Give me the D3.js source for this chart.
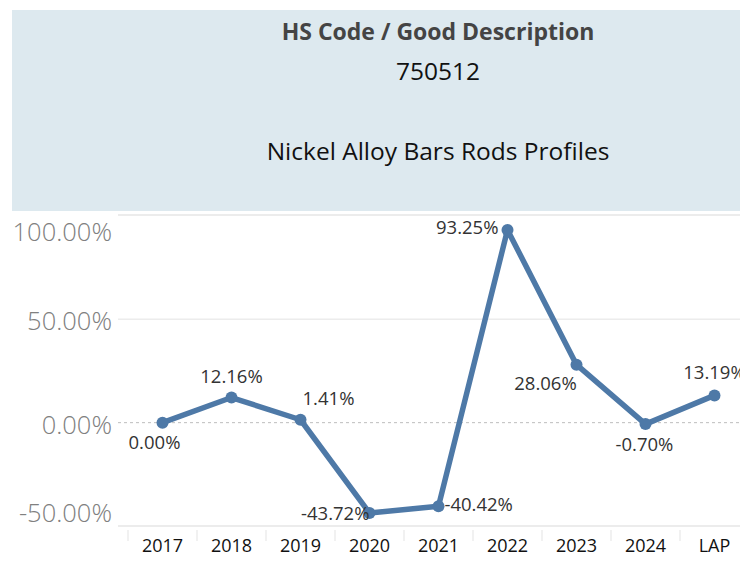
<!DOCTYPE html>
<html>
<head>
<meta charset="utf-8">
<script src="https://cdn.jsdelivr.net/npm/d3@7"></script>
<style>
  html, body { margin: 0; padding: 0; background: #fff; }
  svg { display: block; }
</style>
</head>
<body>
<svg id="chart" width="740" height="562"></svg>
<script>
// Year-over-year change for HS 750512
const categories = ["2017", "2018", "2019", "2020", "2021", "2022", "2023", "2024", "LAP"];
const changePct = [0.00, 12.16, 1.41, -43.72, -40.42, 93.25, 28.06, -0.70, 13.19];
const yTicks = [-50, 0, 50, 100];
const titleLines = ["HS Code / Good Description", "750512", "Nickel Alloy Bars Rods Profiles"];
// label placement per point: [dx, dy, anchor]
const labelPos = [
  [-8, 20, "middle"], [0, -21, "middle"], [28, -21, "middle"],
  [0, 1, "end"], [6, -2, "start"], [-9, -2, "end"],
  [-31, 19, "middle"], [-1, 20, "middle"], [0, -23, "middle"]
];

const svg = d3.select("#chart");
const W = 740, H = 562;
const narrow = "'Liberation Sans Narrow', 'Open Sans', sans-serif";

// Header panel
svg.append("rect").attr("x", 12).attr("y", 10).attr("width", W - 12).attr("height", 201)
  .attr("fill", "#dde9ef");
const hx = 438;
svg.append("text").attr("x", hx).attr("y", 40).attr("text-anchor", "middle")
  .attr("font-family", narrow)
  .attr("font-weight", "bold").attr("font-size", 23).attr("fill", "#444")
  .text(titleLines[0]);
svg.append("text").attr("x", hx).attr("y", 80).attr("text-anchor", "middle")
  .attr("font-family", narrow)
  .attr("font-size", 24.5).attr("fill", "#111")
  .text(titleLines[1]);
svg.append("text").attr("x", hx).attr("y", 160).attr("text-anchor", "middle")
  .attr("font-family", narrow)
  .attr("font-size", 24.5).attr("fill", "#111")
  .text(titleLines[2]);

// Plot area
const plotLeft = 118, plotTop = 216, plotBottom = 526;
const x = d3.scaleBand().domain(categories).range([128, 128 + 69 * categories.length]).paddingInner(0).paddingOuter(0);
const y = d3.scaleLinear().domain([-50, 100]).range([plotBottom, plotTop]);

const grid = svg.append("g");
// top and bottom frame lines
grid.append("line").attr("x1", plotLeft).attr("x2", W).attr("y1", plotTop - 1).attr("y2", plotTop - 1)
  .attr("stroke", "#ececec").attr("stroke-width", 2);
grid.selectAll("line.g").data(yTicks.filter(d => d !== 0 && d !== -50 && d !== 100)).join("line")
  .attr("class", "g").attr("x1", plotLeft).attr("x2", W)
  .attr("y1", d => y(d)).attr("y2", d => y(d))
  .attr("stroke", "#ececec").attr("stroke-width", 1.5);
grid.append("line").attr("x1", plotLeft).attr("x2", W).attr("y1", plotBottom).attr("y2", plotBottom)
  .attr("stroke", "#ececec").attr("stroke-width", 2);
// zero reference line
grid.append("line").attr("x1", plotLeft).attr("x2", W).attr("y1", y(0)).attr("y2", y(0))
  .attr("stroke", "#bdbdbd").attr("stroke-width", 1).attr("stroke-dasharray", "3,3");

// Y axis labels (edge labels nudged inward)
const yLabelFmt = d => d.toFixed(2) + "%";
svg.append("g").selectAll("text").data(yTicks).join("text")
  .attr("x", 112)
  .attr("y", d => d === 100 ? y(d) + 16 : d === -50 ? y(d) - 13 : y(d) + 2)
  .attr("dy", "0.35em")
  .attr("text-anchor", "end")
  .attr("font-family", "'Open Sans', sans-serif").attr("font-weight", 300)
  .attr("font-size", 25.5).attr("fill", "#808080")
  .text(yLabelFmt);

// X axis: band dividers and labels
const xAxis = d3.axisBottom(x).tickSize(0).tickPadding(0);
const xg = svg.append("g").attr("transform", `translate(0,${plotBottom})`).call(xAxis);
xg.select(".domain").remove();
xg.selectAll("text")
  .attr("y", 26).attr("dy", "0")
  .attr("font-family", narrow)
  .attr("font-size", 18).attr("fill", "#111");
xg.selectAll(".tick").append("line")
  .attr("x1", -x.bandwidth() / 2).attr("x2", -x.bandwidth() / 2)
  .attr("y1", 4).attr("y2", 15).attr("stroke", "#e3e3e3").attr("stroke-width", 1);

// Line and points
const cx = (d, i) => x(categories[i]) + x.bandwidth() / 2;
const line = d3.line().x((d, i) => cx(d, i)).y(d => y(d));
svg.append("path").datum(changePct).attr("d", line)
  .attr("fill", "none").attr("stroke", "#4e79a7").attr("stroke-width", 5.5)
  .attr("stroke-linejoin", "round").attr("stroke-linecap", "round");
svg.append("g").selectAll("circle").data(changePct).join("circle")
  .attr("cx", cx).attr("cy", d => y(d)).attr("r", 6).attr("fill", "#4e79a7");

// Value labels
svg.append("g").selectAll("text").data(changePct).join("text")
  .attr("x", (d, i) => cx(d, i) + labelPos[i][0])
  .attr("y", (d, i) => y(d) + labelPos[i][1])
  .attr("dy", "0.35em")
  .attr("text-anchor", (d, i) => labelPos[i][2])
  .attr("font-family", "'Open Sans', sans-serif")
  .attr("font-size", 18.5).attr("fill", "#333")
  .text(d => d.toFixed(2) + "%");
</script>
</body>
</html>
